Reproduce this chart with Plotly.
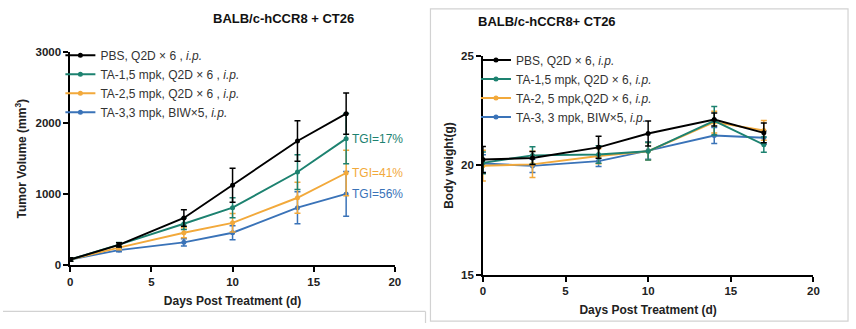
import plotly.graph_objects as go

# Measurement days
days = [0, 3, 7, 10, 14, 17]

# Group labels (legend text)
names_tv = [
    "PBS, Q2D × 6 , <i>i.p.</i>",
    "TA-1,5 mpk, Q2D × 6 , <i>i.p.</i>",
    "TA-2,5 mpk, Q2D × 6 , <i>i.p.</i>",
    "TA-3,3 mpk, BIW×5, <i>i.p.</i>",
]
names_bw = [
    "PBS, Q2D × 6, <i>i.p.</i>",
    "TA-1,5 mpk, Q2D × 6, <i>i.p.</i>",
    "TA-2, 5 mpk,Q2D × 6, <i>i.p.</i>",
    "TA-3, 3 mpk, BIW×5, <i>i.p.</i>",
]
colors = ["#000000", "#1d8270", "#f2a93b", "#3a73b8"]

# Tumor volume (mm^3), mean and SEM
tv_pbs = [80, 285, 665, 1127, 1750, 2135]
tv_ta1 = [80, 290, 584, 810, 1312, 1783]
tv_ta2 = [80, 248, 457, 597, 950, 1299]
tv_ta3 = [80, 213, 322, 457, 810, 1004]
tv_pbs_err = [25, 30, 115, 240, 285, 290]
tv_ta1_err = [25, 30, 80, 140, 245, 355]
tv_ta2_err = [25, 30, 70, 130, 220, 320]
tv_ta3_err = [25, 25, 50, 100, 225, 315]

# Body weight (g), mean and SEM
bw_pbs = [20.27, 20.34, 20.83, 21.46, 22.10, 21.49]
bw_ta1 = [20.12, 20.46, 20.50, 20.65, 22.04, 20.95]
bw_ta2 = [19.99, 20.05, 20.43, 20.65, 21.98, 21.60]
bw_ta3 = [20.09, 19.98, 20.20, 20.68, 21.37, 21.27]
bw_pbs_err = [0.60, 0.30, 0.50, 0.57, 0.30, 0.45]
bw_ta1_err = [0.50, 0.40, 0.40, 0.40, 0.65, 0.35]
bw_ta2_err = [0.70, 0.60, 0.35, 0.40, 0.50, 0.45]
bw_ta3_err = [0.40, 0.30, 0.25, 0.40, 0.37, 0.30]

# Tumor growth inhibition labels (treated groups)
tgi_labels = ["TGI=17%", "TGI=41%", "TGI=56%"]

tv_means = [tv_pbs, tv_ta1, tv_ta2, tv_ta3]
tv_errs = [tv_pbs_err, tv_ta1_err, tv_ta2_err, tv_ta3_err]
bw_means = [bw_pbs, bw_ta1, bw_ta2, bw_ta3]
bw_errs = [bw_pbs_err, bw_ta1_err, bw_ta2_err, bw_ta3_err]

FONT = "Liberation Sans, Arial, sans-serif"

fig = go.Figure()

# Draw order: treated groups first, control on top
order = [3, 2, 1, 0]
for i in order:
    fig.add_trace(go.Scatter(
        x=days, y=tv_means[i], name=names_tv[i], legend="legend",
        mode="lines+markers", legendrank=i + 1,
        line=dict(color=colors[i], width=1.9),
        marker=dict(color=colors[i], size=5),
        error_y=dict(type="data", array=tv_errs[i], color=colors[i],
                     thickness=1.5, width=3),
        xaxis="x", yaxis="y",
    ))
for i in order:
    fig.add_trace(go.Scatter(
        x=days, y=bw_means[i], name=names_bw[i], legend="legend2",
        mode="lines+markers", legendrank=i + 1,
        line=dict(color=colors[i], width=1.9),
        marker=dict(color=colors[i], size=5),
        error_y=dict(type="data", array=bw_errs[i], color=colors[i],
                     thickness=1.5, width=3),
        xaxis="x2", yaxis="y2",
    ))

# TGI annotations next to the last time point of each treated group
for k, lab in enumerate(tgi_labels):
    fig.add_annotation(
        x=days[-1], y=tv_means[k + 1][-1], xref="x", yref="y",
        text=lab, showarrow=False, xanchor="left", xshift=4,
        font=dict(family=FONT, size=12, color=colors[k + 1]),
    )

W, H = 856, 329
axis_common = dict(
    showgrid=False, zeroline=False, showline=True, linecolor="black",
    linewidth=1.6, ticks="outside", ticklen=5, tickwidth=1.6,
    tickcolor="black",
    tickfont=dict(family=FONT, size=11.5, color="#222", weight="bold"),
)
title_font = dict(family=FONT, size=12, color="#222", weight="bold")

fig.update_layout(
    width=W, height=H,
    margin=dict(l=0, r=0, t=0, b=0),
    paper_bgcolor="white", plot_bgcolor="white",
    showlegend=True,
    xaxis=dict(domain=[68 / W, 396 / W], range=[0, 20], tickvals=[0, 5, 10, 15, 20],
               anchor="y", **axis_common,
               title=dict(text="Days Post Treatment (d)", standoff=10, font=title_font)),
    yaxis=dict(domain=[(H - 269) / H, (H - 48) / H], range=[0, 3000],
               tickvals=[0, 1000, 2000, 3000], anchor="x", **axis_common,
               title=dict(text="Tumor Volume (mm<sup>3</sup>)", standoff=6, font=title_font)),
    xaxis2=dict(domain=[485 / W, 819 / W], range=[0, 20], tickvals=[0, 5, 10, 15, 20],
                anchor="y2", **axis_common,
                title=dict(text="Days Post Treatment (d)", standoff=9, font=title_font)),
    yaxis2=dict(domain=[(H - 279) / H, (H - 52) / H], range=[15, 25],
                tickvals=[15, 20, 25], anchor="x2", **axis_common,
                title=dict(text="Body weight(g)", standoff=5, font=title_font)),
    legend=dict(x=58 / W, y=(H - 36) / H, xanchor="left", yanchor="top",
                bgcolor="rgba(0,0,0,0)", itemclick=False,
                font=dict(family=FONT, size=12, color="#333"),
                tracegroupgap=0),
    legend2=dict(x=478 / W, y=(H - 41) / H, xanchor="left", yanchor="top",
                 bgcolor="rgba(0,0,0,0)", itemclick=False,
                 font=dict(family=FONT, size=12, color="#333"),
                 tracegroupgap=0),
)

# Panel titles
fig.add_annotation(text="BALB/c-hCCR8 + CT26", xref="paper", yref="paper",
                   x=210 / W, y=(H - 13) / H, yanchor="middle", showarrow=False,
                   font=dict(family=FONT, size=13, color="#111", weight="bold"))
fig.add_annotation(text="BALB/c-hCCR8+ CT26", xref="paper", yref="paper",
                   x=622 / W, y=(H - 16) / H, yanchor="middle", showarrow=False,
                   font=dict(family=FONT, size=13, color="#111", weight="bold"))

# Panel frames
fig.add_shape(type="rect", xref="paper", yref="paper",
              x0=432 / W, x1=854 / W, y0=(H - 327) / H, y1=(H - 3) / H,
              line=dict(color="#d2d2d2", width=1.2), layer="below")
fig.add_shape(type="line", xref="paper", yref="paper",
              x0=0, x1=427 / W, y0=(H - 317) / H, y1=(H - 317) / H,
              line=dict(color="#d2d2d2", width=1.2), layer="below")
fig.add_shape(type="line", xref="paper", yref="paper",
              x0=427 / W, x1=427 / W, y0=0, y1=(H - 317) / H,
              line=dict(color="#d2d2d2", width=1.2), layer="below")

fig.write_html("out.html")
